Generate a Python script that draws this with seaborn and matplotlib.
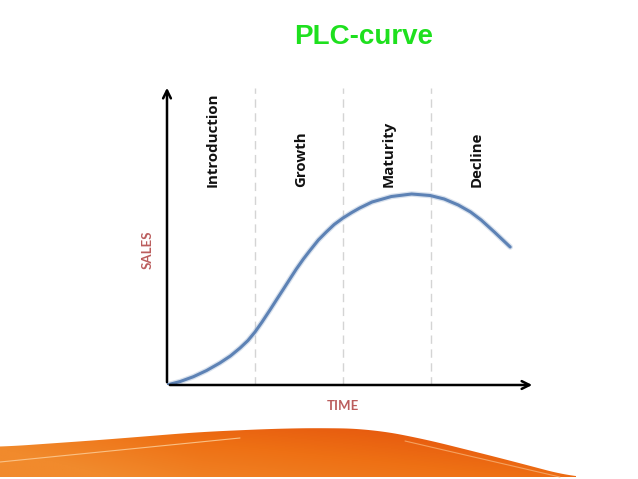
import numpy as np
import pandas as pd
import seaborn as sns
import matplotlib.pyplot as plt
from matplotlib.patches import Polygon
from matplotlib.colors import LinearSegmentedColormap

# values (time in stage units, sales in arbitrary units)
time = [0, 0.15, 0.3, 0.45, 0.6, 0.72, 0.83, 0.92, 1.0, 1.08, 1.17, 1.25,
        1.32, 1.4, 1.47, 1.55, 1.62, 1.72, 1.81, 1.9, 2.0, 2.1, 2.19, 2.33,
        2.55, 2.78, 2.99, 3.15, 3.31, 3.45, 3.57, 3.72, 3.9]
sales = [0, 0.35, 0.83, 1.45, 2.2, 2.9, 3.7, 4.45, 5.3, 6.3, 7.5, 8.6,
         9.55, 10.65, 11.6, 12.6, 13.4, 14.5, 15.3, 16.05, 16.7, 17.25, 17.7,
         18.3, 18.85, 19.1, 18.95, 18.6, 18.0, 17.3, 16.5, 15.3, 13.8]
stages = ["Introduction", "Growth", "Maturity", "Decline"]
boundaries = [1, 2, 3]

df = pd.DataFrame({"Time": time, "Sales": sales})

sns.set_style("white")
fig = plt.figure(figsize=(6.38, 4.79), dpi=100)

# orange swoosh at the bottom of the slide (decoration)
bg = fig.add_axes([0, 0, 1, 1], zorder=0)
bg.set_xlim(0, 638)
bg.set_ylim(479, 0)
bg.axis("off")
kx = [0, 100, 200, 280, 330, 370, 420, 500, 576]
ky = [447, 440, 432, 428.5, 428, 429, 438, 458, 478]
bx = np.linspace(0, 576, 300)
top = np.interp(bx, kx, ky)
top = np.convolve(np.r_[[top[0]] * 15, top, [top[-1]] * 15],
                  np.ones(31) / 31, mode="valid")
shape = Polygon(np.column_stack([np.r_[bx, 576, 0], np.r_[top, 477, 477]]),
                closed=True, facecolor="none", lw=0)
bg.add_patch(shape)
gx, gy = np.meshgrid(np.linspace(0, 1, 200), np.linspace(0, 1, 60))
# darker red-orange on the upper right, lighter orange lower and left
shade = np.clip(0.55 * gx + 0.45 * (1 - gy) - 0.25 * (gx < 0.35) * (1 - gx / 0.35), 0, 1)
cmap = LinearSegmentedColormap.from_list("sw", ["#f18a2c", "#ee7014", "#e24c0c"])
im = bg.imshow(shade, cmap=cmap, extent=(0, 576, 477, 426), aspect="auto",
               interpolation="bilinear")
im.set_clip_path(shape)
wx = np.linspace(0, 240, 60)
bg.plot(wx, 462 - wx * 0.1, color="#fbc890", lw=0.8, alpha=0.9)
bg.plot([405, 560], [441, 477], color="#f6a868", lw=0.8, alpha=0.9)

# main chart area
ax = fig.add_axes([167 / 638, (479 - 385) / 479, 373 / 638, 305 / 479], zorder=1)
ax.patch.set_alpha(0)
ax.set_xlim(0, 373 / 88)
ax.set_ylim(0, 30.5)
for s in ax.spines.values():
    s.set_visible(False)
ax.set_xticks([])
ax.set_yticks([])

for b in boundaries:
    ax.plot([b, b], [0, 29.7], color="#d4d4d4", lw=1, ls=(0, (6, 4)))

# soft halo then the curve
sns.lineplot(data=df, x="Time", y="Sales", ax=ax, color="#a9bdd8", lw=4,
             alpha=0.45)
sns.lineplot(data=df, x="Time", y="Sales", ax=ax, color="#5d82b5", lw=2.2)
ax.set_xlabel("")
ax.set_ylabel("")

ax.annotate("", xy=(368 / 88, 0), xytext=(0, 0),
            arrowprops=dict(arrowstyle="->", lw=1.8, color="black",
                            mutation_scale=14))
ax.annotate("", xy=(0, 30.0), xytext=(0, 0),
            arrowprops=dict(arrowstyle="->", lw=1.8, color="black",
                            mutation_scale=14))

for i, name in enumerate(stages):
    ax.text(i + 0.52, 19.8, name, rotation=90, ha="center", va="bottom",
            fontsize=10.8, fontweight="bold", family="Open Sans",
            color="#111111")

fig.text(148 / 638, 1 - 250 / 479, "SALES", rotation=90, ha="center",
         va="center", fontsize=9.5, fontweight="bold", family="Lato",
         color="#bb5d5d")
fig.text(343 / 638, 1 - 406 / 479, "TIME", ha="center", va="center",
         fontsize=9.5, fontweight="bold", family="Lato", color="#bb5d5d")

fig.text(364 / 638, 1 - 37 / 479, "PLC-curve", ha="center", va="center",
         fontsize=20, fontweight="bold", family="Liberation Sans",
         color="#1ee01e")

fig.savefig("out.png", dpi=100)
